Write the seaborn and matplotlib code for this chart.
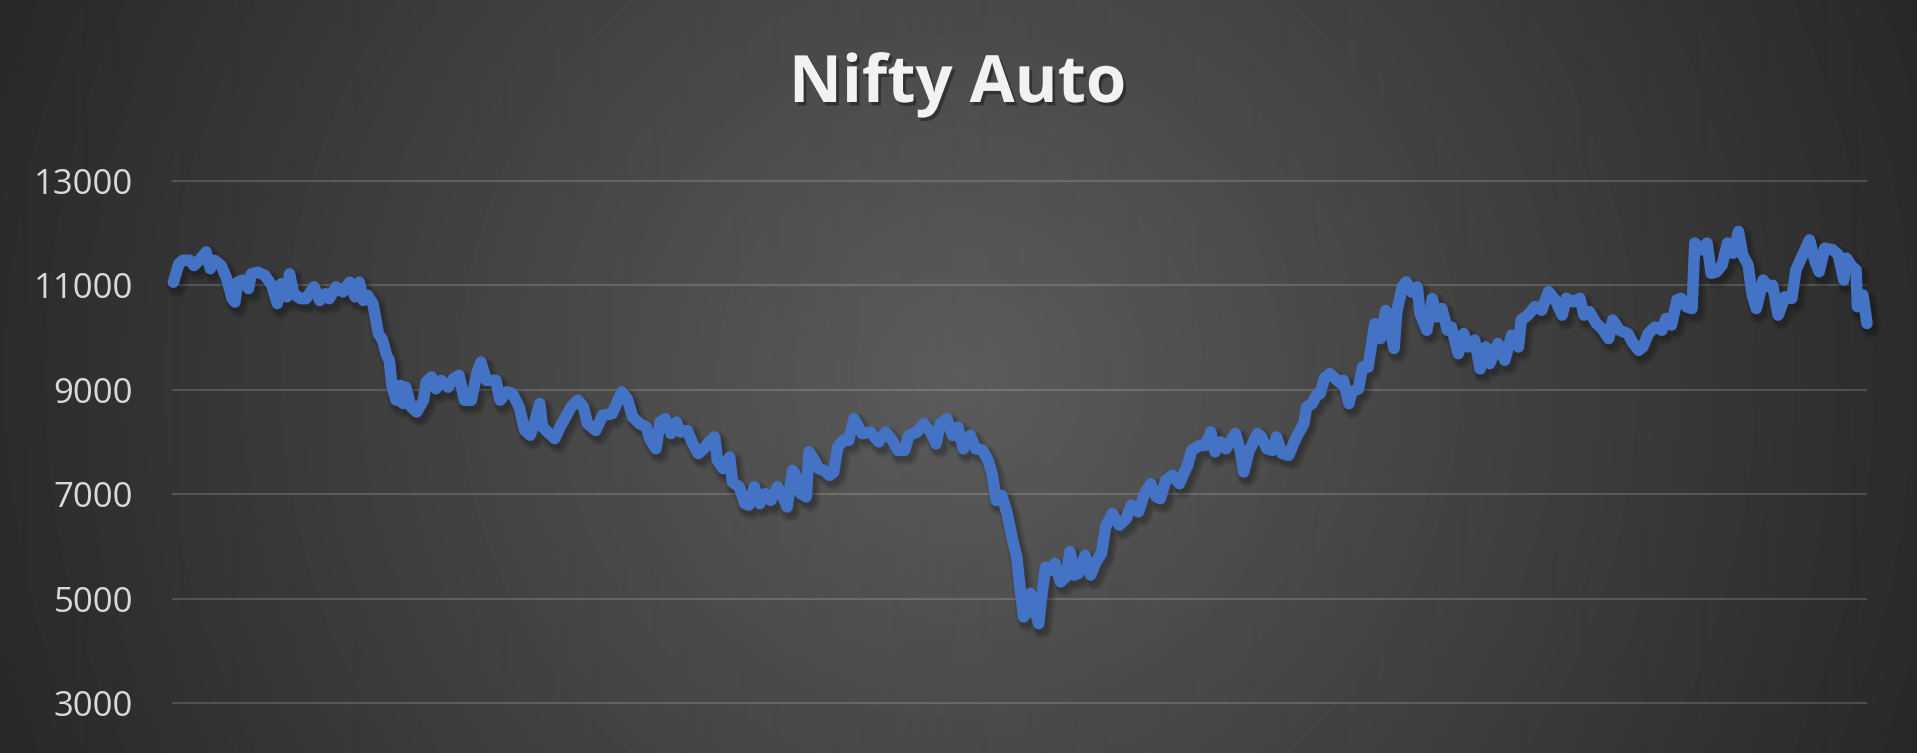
import numpy as np
import pandas as pd
import matplotlib
matplotlib.use("Agg")
import matplotlib.pyplot as plt
import matplotlib.patheffects as pe
import seaborn as sns

title = "Nifty Auto"
y_ticks = [3000, 5000, 7000, 9000, 11000, 13000]

days = [1, 5, 8, 13, 16, 20, 25, 28, 31, 36, 40, 44, 46, 48, 52, 56, 58, 63, 68, 73,
        77, 80, 84, 86, 89, 94, 98, 104, 108, 112, 115, 120, 125, 130, 134, 137, 140, 143, 147, 149,
        151, 154, 157, 159, 161, 164, 167, 169, 171, 175, 179, 184, 186, 190, 193, 197, 202, 206, 210, 214,
        219, 223, 226, 230, 237, 240, 245, 249, 254, 258, 262, 265, 269, 271, 276, 280, 284, 288, 292, 297,
        301, 304, 310, 315, 322, 329, 333, 337, 342, 347, 350, 354, 357, 361, 365, 369, 372, 377, 381, 385,
        389, 393, 397, 399, 403, 408, 410, 415, 419, 422, 426, 430, 434, 438, 443, 447, 450, 454, 456, 460,
        464, 466, 470, 473, 477, 481, 484, 487, 491, 495, 499, 503, 505, 511, 517, 522, 527, 531, 536, 539,
        545, 550, 555, 559, 562, 567, 571, 575, 579, 584, 588, 593, 597, 600, 603, 607, 611, 615, 618, 620,
        623, 626, 628, 631, 634, 636, 639, 643, 646, 650, 654, 657, 660, 663, 668, 672, 676, 680, 683, 688,
        693, 698, 702, 707, 711, 716, 720, 723, 727, 732, 737, 740, 743, 746, 752, 756, 760, 763, 767, 771,
        774, 778, 782, 784, 788, 790, 794, 797, 801, 805, 808, 812, 817, 821, 824, 828, 830, 834, 838, 840,
        843, 847, 851, 855, 857, 861, 863, 868, 871, 875, 878, 880, 884, 888, 891, 894, 896, 900, 903, 907,
        911, 913, 918, 922, 925, 929, 933, 936, 941, 945, 948, 953, 957, 961, 964, 970, 975, 980, 985, 987,
        992, 997, 1002, 1007, 1012, 1017, 1020, 1025, 1030, 1033, 1037, 1042, 1046, 1051, 1054, 1059, 1065, 1069, 1073, 1076,
        1080, 1085, 1090, 1093, 1097, 1101, 1104, 1108, 1112, 1114, 1119, 1123, 1126, 1130, 1134, 1138, 1142, 1146, 1149, 1153,
        1156, 1159, 1164, 1168, 1171, 1175, 1180, 1185, 1188, 1193, 1198, 1202, 1205, 1209, 1215, 1219, 1223, 1225, 1229, 1232,
        1233, 1237, 1240]

values = [11060, 11410, 11480, 11480, 11380, 11480, 11640, 11320, 11480, 11380, 11130, 10745, 10680, 11060, 11100, 10940, 11220, 11250, 11190, 11000,
          10650, 11030, 10780, 11220, 10840, 10745, 10745, 10970, 10710, 10840, 10745, 10970, 10875, 11060, 10780, 11060, 10710, 10810, 10650, 10360,
          10075, 9950, 9660, 9565, 9050, 8800, 9085, 8735, 9050, 8670, 8575, 8800, 9150, 9245, 9020, 9180, 9050, 9210, 9275, 8800,
          8800, 9310, 9530, 9180, 9180, 8800, 8960, 8930, 8670, 8225, 8130, 8350, 8735, 8290, 8160, 8065, 8290, 8480, 8670, 8800,
          8670, 8350, 8220, 8510, 8540, 8955, 8830, 8480, 8350, 8285, 8030, 7870, 8380, 8445, 8160, 8380, 8190, 8220, 7965, 7775,
          7870, 8000, 8095, 7650, 7490, 7710, 7230, 7140, 6820, 6790, 7140, 6820, 7010, 6880, 7140, 6950, 6755, 7455, 7390, 7010,
          6950, 7810, 7650, 7490, 7455, 7360, 7420, 7900, 8030, 8030, 8445, 8255, 8160, 8190, 8000, 8190, 8030, 7840, 7840, 8125,
          8190, 8350, 8190, 7965, 8350, 8445, 8125, 8285, 7870, 8125, 7870, 7840, 7650, 7390, 6880, 6975, 6625, 6115, 5800, 5300,
          4650, 4750, 5100, 4800, 4520, 5000, 5600, 5545, 5675, 5320, 5420, 5900, 5450, 5480, 5830, 5450, 5705, 5865, 6375, 6630,
          6405, 6530, 6790, 6660, 6980, 7200, 6950, 6915, 7265, 7360, 7200, 7390, 7555, 7840, 7935, 7935, 8190, 7810, 8000, 7870,
          8000, 8160, 7780, 7425, 7840, 7935, 8160, 8095, 7870, 7840, 8095, 7780, 7745, 8000, 8160, 8350, 8670, 8735, 8925, 8925,
          9215, 9310, 9215, 9120, 9180, 8735, 8960, 9020, 9435, 9435, 9950, 10265, 9980, 10520, 10200, 9790, 10490, 10970, 11065, 10870,
          10970, 10460, 10140, 10745, 10395, 10555, 10140, 10200, 9690, 10075, 9820, 9950, 9400, 9820, 9500, 9885, 9565, 10045, 9820, 10335,
          10430, 10590, 10525, 10880, 10720, 10430, 10750, 10685, 10750, 10430, 10495, 10270, 10175, 9980, 10335, 10140, 10075, 9885, 9755, 9820,
          10075, 10200, 10140, 10365, 10240, 10720, 10750, 10590, 10555, 11810, 11680, 11810, 11230, 11260, 11390, 11810, 11615, 12030, 11585, 11390,
          10815, 10555, 11100, 10975, 11000, 10430, 10780, 10750, 11295, 11585, 11870, 11455, 11260, 11710, 11680, 11585, 11100, 11520, 11360, 11295,
          10590, 10815, 10270]

sns.set_style("dark")
plt.rcParams["font.family"] = ["Open Sans", "DejaVu Sans"]

W, H = 1917, 753
fig = plt.figure(figsize=(W / 100, H / 100), dpi=100)

# radial gradient background
bg_ax = fig.add_axes([0, 0, 1, 1], zorder=-10)
yy, xx = np.mgrid[0:H, 0:W]
dist = np.hypot(xx - W / 2, yy - H / 2)
shade = np.clip((92 - 52 * dist / 1030) / 255, 0, 1)
bg_ax.imshow(shade, cmap="gray", vmin=0, vmax=1, aspect="auto",
             extent=[0, 1, 0, 1], interpolation="bilinear")
bg_ax.set_axis_off()

ax = fig.add_axes([172 / W, 0.0526, (1867 - 172) / W, 0.7210])
ax.set_facecolor("none")

shadow = [pe.SimpleLineShadow(offset=(2.5, -3.5), shadow_color="black", alpha=0.08, linewidth=15),
          pe.SimpleLineShadow(offset=(2.5, -3.5), shadow_color="black", alpha=0.10, linewidth=12),
          pe.SimpleLineShadow(offset=(2, -3), shadow_color="black", alpha=0.12, linewidth=9.5),
          pe.Normal()]

df = pd.DataFrame({"day": days, "value": values})
sns.lineplot(data=df, x="day", y="value", ax=ax, color="#4472C4", linewidth=8.3,
             solid_joinstyle="round", solid_capstyle="round", clip_on=False,
             path_effects=shadow)

ax.set_xlim(0, 1240)
ax.set_ylim(2800, 13200)
ax.set_yticks(y_ticks)
ax.set_yticklabels([str(t) for t in y_ticks])
ax.set_xticks([])
ax.tick_params(axis="y", length=0, pad=28, labelsize=25, labelcolor="#d9d9d9")
ax.grid(axis="y", color="white", alpha=0.16, linewidth=1.5)
ax.grid(axis="x", visible=False)
ax.set_axisbelow(True)
for s in ax.spines.values():
    s.set_visible(False)
ax.set_xlabel("")
ax.set_ylabel("")

fig.text(0.4995, 1 - 102 / H, title, ha="center", va="baseline", fontsize=47,
         fontweight="bold", color="#f2f2f2",
         path_effects=[pe.SimplePatchShadow(offset=(2, -2.5), shadow_rgbFace="black", alpha=0.35), pe.Normal()])

fig.savefig("out.png", dpi=100)
